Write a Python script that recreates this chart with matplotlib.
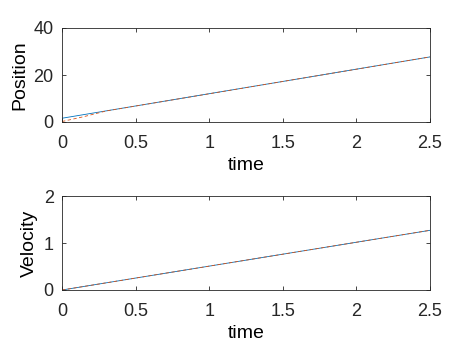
import matplotlib.pyplot as plt

# Données
t_pos_blue = [0, 2.5]
pos_blue = [1.6, 27.7]
t_pos_orange = [0, 0.15, 0.3, 2.5]
pos_orange = [0.2, 2.3, 4.7, 27.7]

t_vel = [0, 2.5]
vel_blue = [0, 1.27]
vel_orange = [0, 1.27]

xticks = [0, 0.5, 1, 1.5, 2, 2.5]
xticklabels = ['0', '0.5', '1', '1.5', '2', '2.5']

plt.rcParams['font.family'] = ['Liberation Sans', 'DejaVu Sans']
plt.rcParams['font.size'] = 13

fig = plt.figure(figsize=(4.74, 3.55), dpi=100)
W, H = 474, 355
ax1 = fig.add_axes([62 / W, 1 - 122 / H, (430 - 62) / W, (122 - 28) / H])
ax2 = fig.add_axes([62 / W, 1 - 290 / H, (430 - 62) / W, (290 - 196) / H])

blue = '#0072BD'
orange = '#D95319'
edge = '#262626'

ax1.plot(t_pos_blue, pos_blue, color=blue, linewidth=0.6)
ax1.plot(t_pos_orange, pos_orange, color=orange, linewidth=0.6, linestyle='--', dashes=(4, 3))
ax1.set_ylim(0, 40)
ax1.set_yticks([0, 20, 40])
ax1.set_ylabel('Position', fontsize=14, labelpad=4)

ax2.plot(t_vel, vel_blue, color=blue, linewidth=0.6)
ax2.plot(t_vel, vel_orange, color=orange, linewidth=0.6, linestyle='--', dashes=(4, 3))
ax2.set_ylim(0, 2)
ax2.set_yticks([0, 1, 2])
ax2.set_ylabel('Velocity', fontsize=14, labelpad=4)

for ax in (ax1, ax2):
    ax.set_xlim(0, 2.5)
    ax.set_xticks(xticks)
    ax.set_xticklabels(xticklabels)
    ax.set_xlabel('time', fontsize=14, labelpad=4)
    ax.tick_params(direction='in', top=True, right=True, length=3, width=0.6,
                   colors=edge, labelcolor='#262626', pad=6)
    ax.tick_params(axis='x', pad=9)
    for s in ax.spines.values():
        s.set_color(edge)
        s.set_linewidth(0.6)

plt.savefig('out.png', dpi=100)
